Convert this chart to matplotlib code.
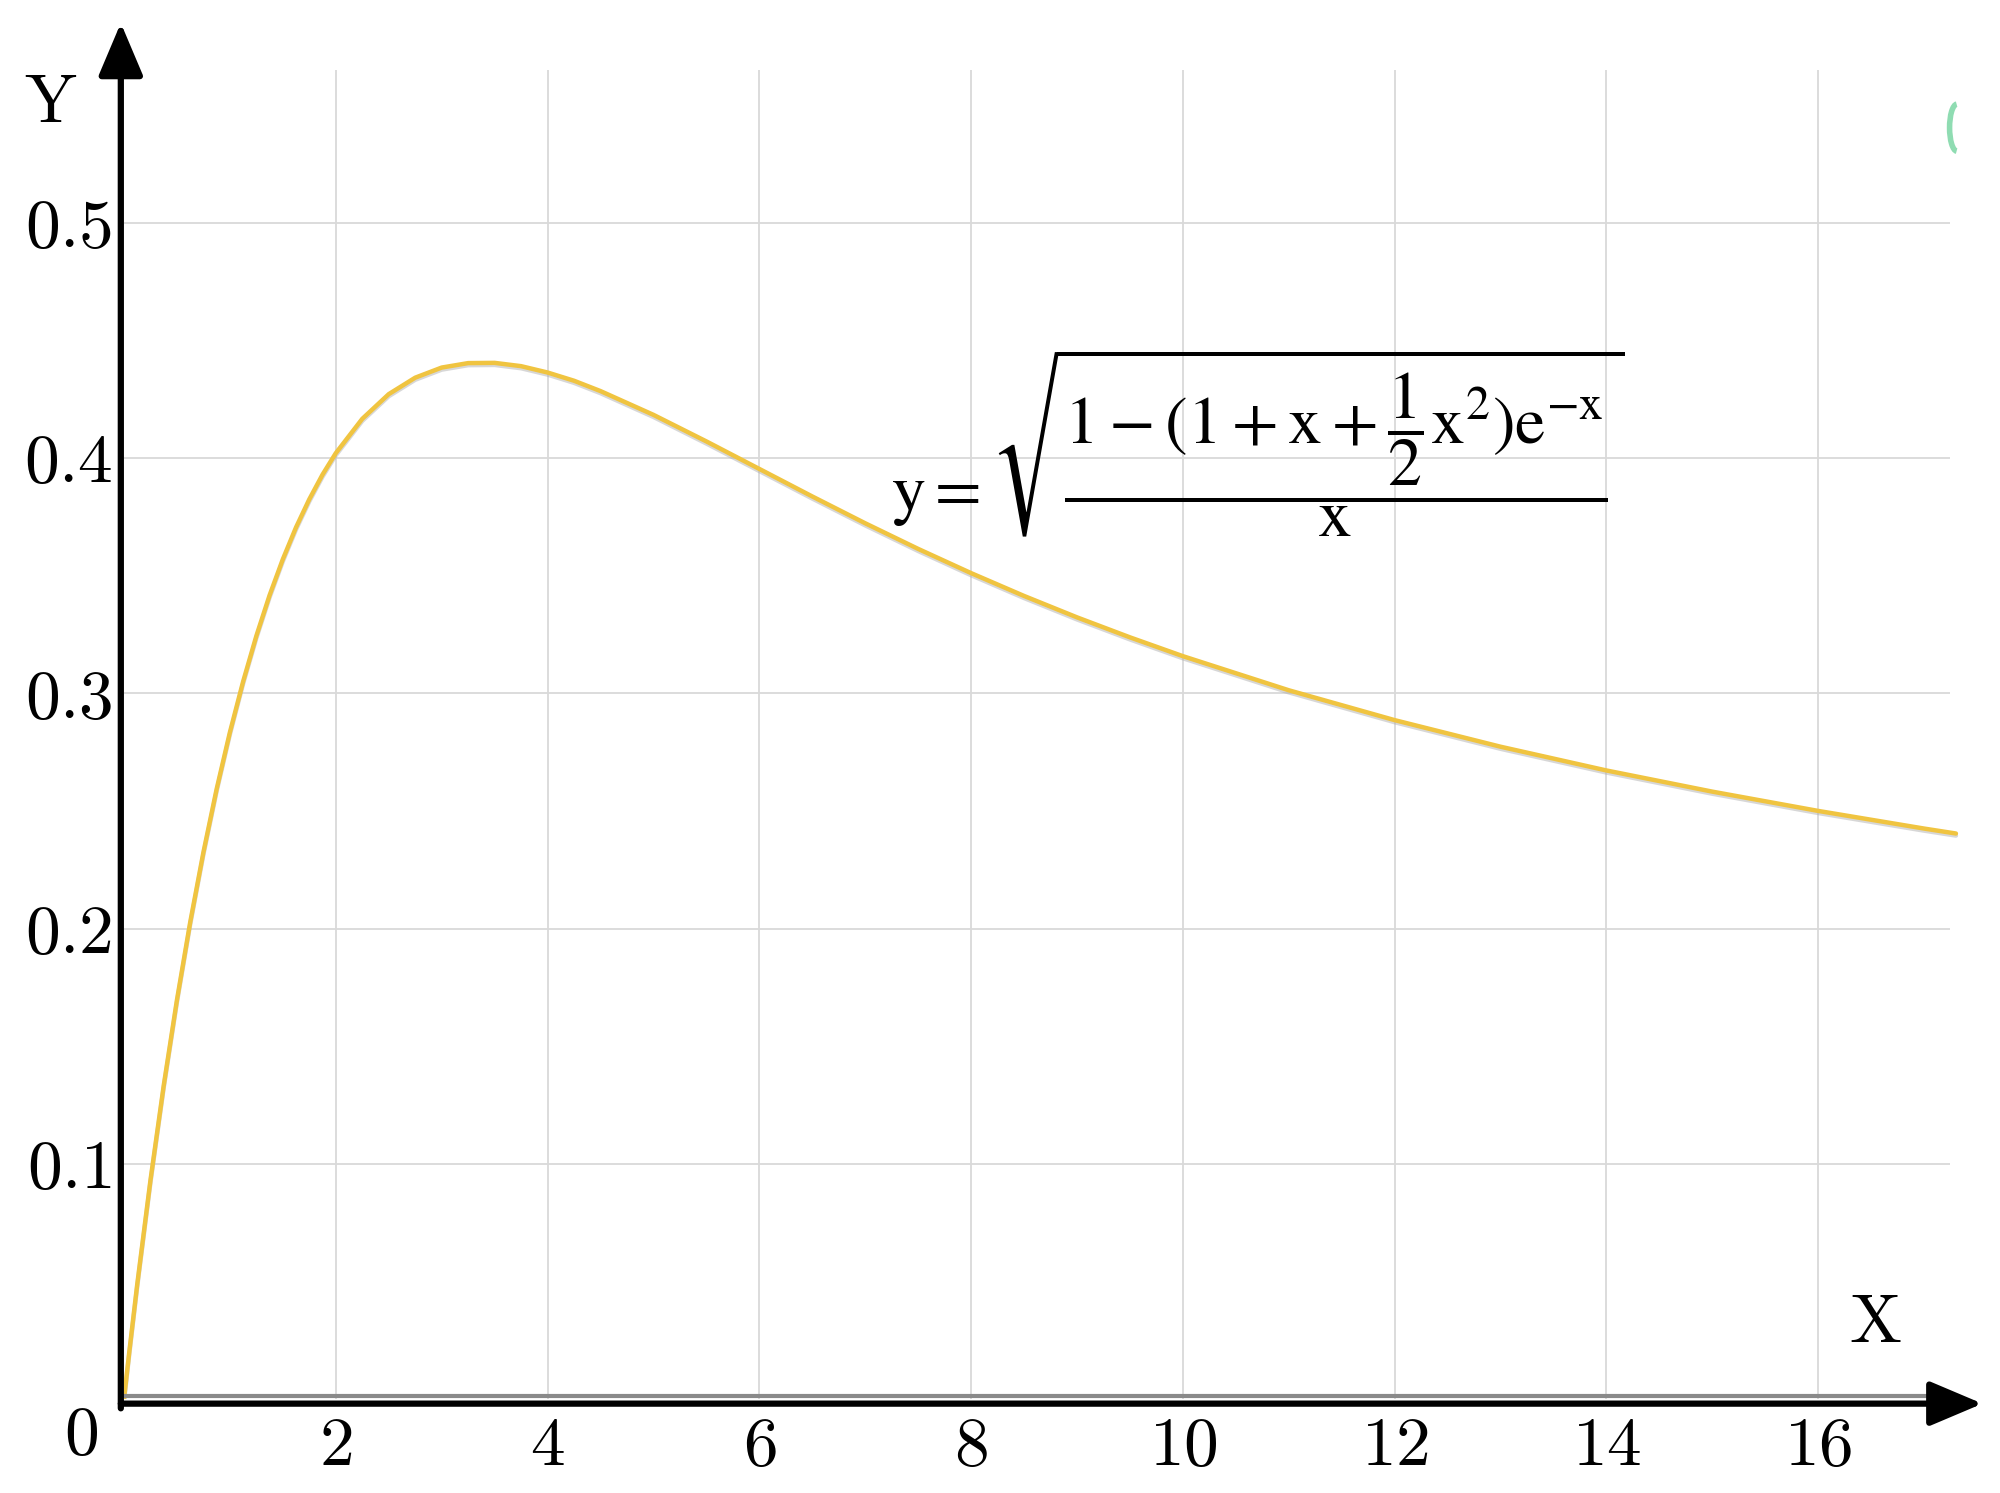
import matplotlib.pyplot as plt
import matplotlib.patheffects as pe
from matplotlib.patches import Arc

# points
x_vals = [0, 0.05, 0.125, 0.25, 0.375, 0.5, 0.625, 0.75, 0.875, 1.0, 1.125,
          1.25, 1.375, 1.5, 1.625, 1.75, 1.875, 2.0, 2.25, 2.5, 2.75, 3.0,
          3.25, 3.5, 3.75, 4.0, 4.25, 4.5, 5.0, 5.5, 6.0, 6.5, 7.0, 7.5, 8.0,
          8.5, 9.0, 9.5, 10.0, 11.0, 12.0, 13.0, 14.0, 15.0, 16.0, 17.0, 17.3]
y_vals = [0, 0.0200, 0.0487, 0.0930, 0.1332, 0.1696, 0.2026, 0.2324, 0.2593,
          0.2834, 0.3050, 0.3244, 0.3417, 0.3570, 0.3706, 0.3825, 0.3930,
          0.4021, 0.4167, 0.4272, 0.4342, 0.4385, 0.4404, 0.4405, 0.4391,
          0.4364, 0.4329, 0.4285, 0.4184, 0.4071, 0.3954, 0.3837, 0.3723,
          0.3614, 0.3511, 0.3414, 0.3323, 0.3238, 0.3158, 0.3013, 0.2886,
          0.2773, 0.2672, 0.2582, 0.2500, 0.2425, 0.2404]

x_ticks = [2, 4, 6, 8, 10, 12, 14, 16]
y_ticks = [0.1, 0.2, 0.3, 0.4, 0.5]
x_tick_labels = ['2', '4', '6', '8', '10', '12', '14', '16']
y_tick_labels = ['0.1', '0.2', '0.3', '0.4', '0.5']

fig = plt.figure(figsize=(20, 14.93), dpi=100)
ax = fig.add_axes([0.062, 0.063, 0.9292, 0.9216])
ax.set_xlim(0, 17.55)
ax.set_ylim(0, 0.585)
ax.axis('off')

# grid
ax.vlines(x_ticks, 0, 0.565, color='#d9d9d9', lw=1.3, zorder=1)
ax.hlines(y_ticks, 0, 17.24, color='#d9d9d9', lw=1.3, zorder=1)

# curve with faint shadow
ax.plot(x_vals, y_vals, color='#f0c440', lw=3.2, zorder=3, solid_capstyle='round',
        solid_joinstyle='round',
        path_effects=[pe.SimpleLineShadow(offset=(0, -1.5), shadow_color='#b0b0b0', alpha=0.5),
                      pe.Normal()])

# axes with arrows
ax.plot([0, 17.3], [0.0012, 0.0012], color='#8a8a8a', lw=3, zorder=4, clip_on=False)
ax.annotate('', xy=(17.55, -0.002), xytext=(-0.03, -0.002),
            arrowprops=dict(arrowstyle='-|>,head_length=1.3,head_width=0.55',
                            lw=4.5, color='black', mutation_scale=25, shrinkA=0, shrinkB=0),
            annotation_clip=False, zorder=5)
ax.annotate('', xy=(-0.03, 0.585), xytext=(-0.03, -0.004),
            arrowprops=dict(arrowstyle='-|>,head_length=1.3,head_width=0.55',
                            lw=4.5, color='black', mutation_scale=25, shrinkA=0, shrinkB=0),
            annotation_clip=False, zorder=5)

# tick labels
for xt, lab in zip(x_ticks, x_tick_labels):
    ax.text(xt, -0.02, '$' + lab + '$', ha='center', va='center', fontsize=50,
            math_fontfamily='cm', clip_on=False)
for yt, lab in zip(y_ticks, y_tick_labels):
    ax.text(-0.11, yt - 0.002, '$' + lab + '$', ha='right', va='center', fontsize=50,
            math_fontfamily='cm', clip_on=False)
ax.text(-0.41, -0.015, '$0$', ha='center', va='center', fontsize=50,
        math_fontfamily='cm', clip_on=False)
ax.text(-0.69, 0.551, '$\\mathrm{Y}$', ha='center', va='center', fontsize=50,
        math_fontfamily='cm', clip_on=False)
ax.text(16.54, 0.0325, '$\\mathrm{X}$', ha='center', va='center', fontsize=50,
        math_fontfamily='cm', clip_on=False)

# formula
formula = (r'$\mathrm{y} = \sqrt{\dfrac{1-(1+\mathrm{x}+\dfrac{1}{2}\mathrm{x}^{2})'
           r'\mathrm{e}^{-\mathrm{x}}}{\mathrm{x}}}$')
ax.text(10.71, 0.4065, formula, ha='center', va='center', fontsize=49,
        math_fontfamily='stix', zorder=6)

# small green mark at the right edge
ax.add_patch(Arc((17.31, 0.5405), 0.14, 0.02, theta1=110, theta2=250,
                 color='#8fdcb2', lw=4, clip_on=False))

fig.savefig('out.png', dpi=100, facecolor='white')
